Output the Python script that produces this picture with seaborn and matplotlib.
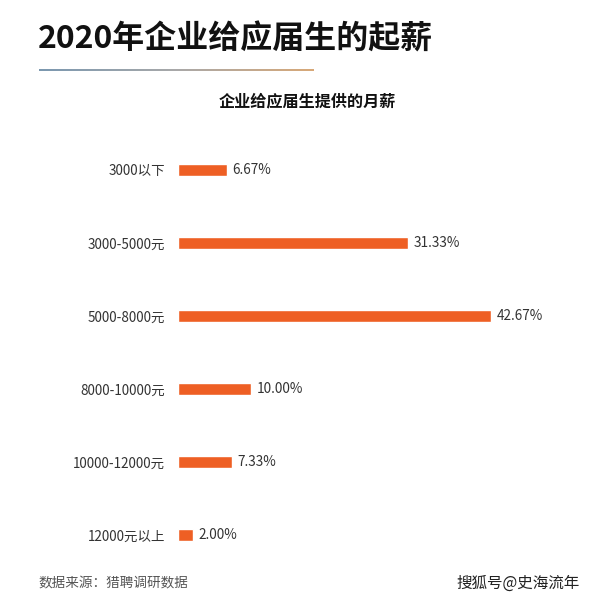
import numpy as np
import pandas as pd
import matplotlib
matplotlib.use('Agg')
import matplotlib.pyplot as plt
import seaborn as sns

# 数据
categories = ["3000以下", "3000-5000元", "5000-8000元", "8000-10000元", "10000-12000元", "12000元以上"]
shares = [6.67, 31.33, 42.67, 10.00, 7.33, 2.00]
value_labels = ["6.67%", "31.33%", "42.67%", "10.00%", "7.33%", "2.00%"]

title = "2020年企业给应届生的起薪"
subtitle = "企业给应届生提供的月薪"
source = "数据来源：猎聘调研数据"
watermark = "搜狐号@史海流年"

sns.set_style("white")
plt.rcParams['font.family'] = ['Noto Sans CJK SC', 'DejaVu Sans']

W, H = 594, 608
fig = plt.figure(figsize=(W / 100, H / 100), dpi=100)

# axes: bars start at x=178px, first bar center y=170, last y=535
ax = fig.add_axes([178 / W, 1 - 571.5 / H, (570 - 178) / W, (571.5 - 133.5) / H])
df = pd.DataFrame({"cat": categories, "val": shares})
sns.barplot(data=df, x="val", y="cat", ax=ax, color="#EE5F24", width=0.17, saturation=1)
ax.set_xlim(0, (570 - 178) / 7.33)
ax.set_ylim(5.5, -0.5)
ax.set_xlabel("")
ax.set_ylabel("")
ax.set_xticks([])
ax.tick_params(axis='y', length=0, pad=9, labelsize=9.7, labelcolor="#333333")
sns.despine(ax=ax, left=True, bottom=True)

for i, (v, lab) in enumerate(zip(shares, value_labels)):
    ax.annotate(lab, (v, i), xytext=(4, 0), textcoords="offset points",
                va="center", ha="left", fontsize=9.8, color="#333333")

# 标题
fig.text(38 / W, 1 - 40 / H, title, fontsize=23, fontweight="bold", color="#111111",
         ha="left", va="center")

# 渐变线
lax = fig.add_axes([39 / W, 1 - 71.5 / H, (314 - 39) / W, 3 / H])
grad = np.linspace(0, 1, 256).reshape(1, -1)
cmap = matplotlib.colors.LinearSegmentedColormap.from_list("g", ["#7B98B0", "#A9A9A9", "#D8A878"])
lax.imshow(grad, aspect="auto", cmap=cmap)
lax.axis("off")

fig.text(307 / W, 1 - 101 / H, subtitle, fontsize=11.6, fontweight="bold", color="#111111",
         ha="center", va="center")

fig.text(38 / W, 1 - 583 / H, source, fontsize=9.8, color="#555555", ha="left", va="center")
fig.text(580 / W, 1 - 583 / H, watermark, fontsize=11.2, color="#222222", ha="right", va="center")

fig.savefig("out.png", dpi=100, facecolor="white")
